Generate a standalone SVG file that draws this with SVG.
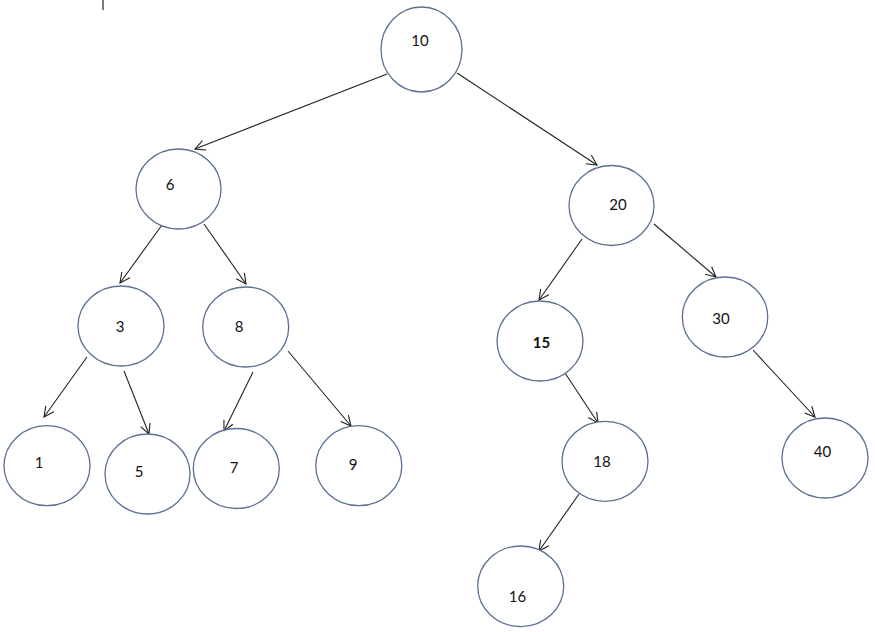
<svg xmlns="http://www.w3.org/2000/svg" width="875" height="632" viewBox="0 0 875 632">
<defs>
<style>
.node ellipse{fill:#fff;stroke:#5b7092;stroke-width:1.3}
.node text{font-family:Lato,"Liberation Sans",sans-serif;font-size:15px;fill:#111;text-anchor:middle}
.edges line{stroke:#222;stroke-width:1.1;marker-end:url(#arr)}
</style>
<marker id="arr" markerUnits="userSpaceOnUse" markerWidth="14" markerHeight="14" refX="11" refY="6" orient="auto">
<path d="M1,1 L11,6 L1,11" fill="none" stroke="#222" stroke-width="1.1"/>
</marker>
</defs>
<rect width="875" height="632" fill="#fff"/>
<line x1="103" y1="0" x2="103" y2="10" stroke="#333" stroke-width="1.3"/>
<g class="edges">
<line x1="387" y1="74" x2="195" y2="149"/>
<line x1="457" y1="73" x2="597" y2="165"/>
<line x1="162" y1="225" x2="120" y2="283"/>
<line x1="204" y1="224" x2="246" y2="284"/>
<line x1="582" y1="239" x2="539" y2="300"/>
<line x1="654" y1="224" x2="716" y2="277"/>
<line x1="87" y1="357" x2="44" y2="417"/>
<line x1="124" y1="371" x2="149" y2="434"/>
<line x1="253" y1="372" x2="224" y2="431"/>
<line x1="288" y1="351" x2="351" y2="426"/>
<line x1="565" y1="373" x2="598" y2="423"/>
<line x1="753" y1="350" x2="815" y2="417"/>
<line x1="579" y1="494" x2="539" y2="551"/>
</g>
<g id="n10" class="node"><ellipse cx="421.5" cy="49.5" rx="40.5" ry="42.5"/><text x="420" y="46">10</text></g>
<g id="n6" class="node"><ellipse cx="178.5" cy="189" rx="42.5" ry="40"/><text x="170" y="190">6</text></g>
<g id="n20" class="node"><ellipse cx="611.5" cy="205.5" rx="42.5" ry="40"/><text x="618" y="210">20</text></g>
<g id="n3" class="node"><ellipse cx="121" cy="326" rx="43" ry="40"/><text x="120" y="332">3</text></g>
<g id="n8" class="node"><ellipse cx="245.7" cy="327" rx="43" ry="40"/><text x="239" y="332">8</text></g>
<g id="n15" class="node"><ellipse cx="540" cy="341" rx="43" ry="40"/><text x="541.5" y="348" font-weight="bold">15</text></g>
<g id="n30" class="node"><ellipse cx="725" cy="317" rx="42.7" ry="40"/><text x="721" y="324">30</text></g>
<g id="n1" class="node"><ellipse cx="47" cy="465.7" rx="43" ry="40"/><text x="39" y="468">1</text></g>
<g id="n5" class="node"><ellipse cx="147.5" cy="474" rx="42.5" ry="40"/><text x="139" y="477">5</text></g>
<g id="n7" class="node"><ellipse cx="236.3" cy="468.5" rx="43" ry="40"/><text x="234" y="473">7</text></g>
<g id="n9" class="node"><ellipse cx="358.8" cy="465.7" rx="43" ry="40"/><text x="353" y="470">9</text></g>
<g id="n18" class="node"><ellipse cx="605" cy="461.3" rx="43" ry="40"/><text x="602" y="467">18</text></g>
<g id="n40" class="node"><ellipse cx="825" cy="458" rx="43" ry="40"/><text x="822.5" y="457">40</text></g>
<g id="n16" class="node"><ellipse cx="520.7" cy="586.3" rx="43" ry="40.3"/><text x="517.5" y="602">16</text></g>
</svg>
